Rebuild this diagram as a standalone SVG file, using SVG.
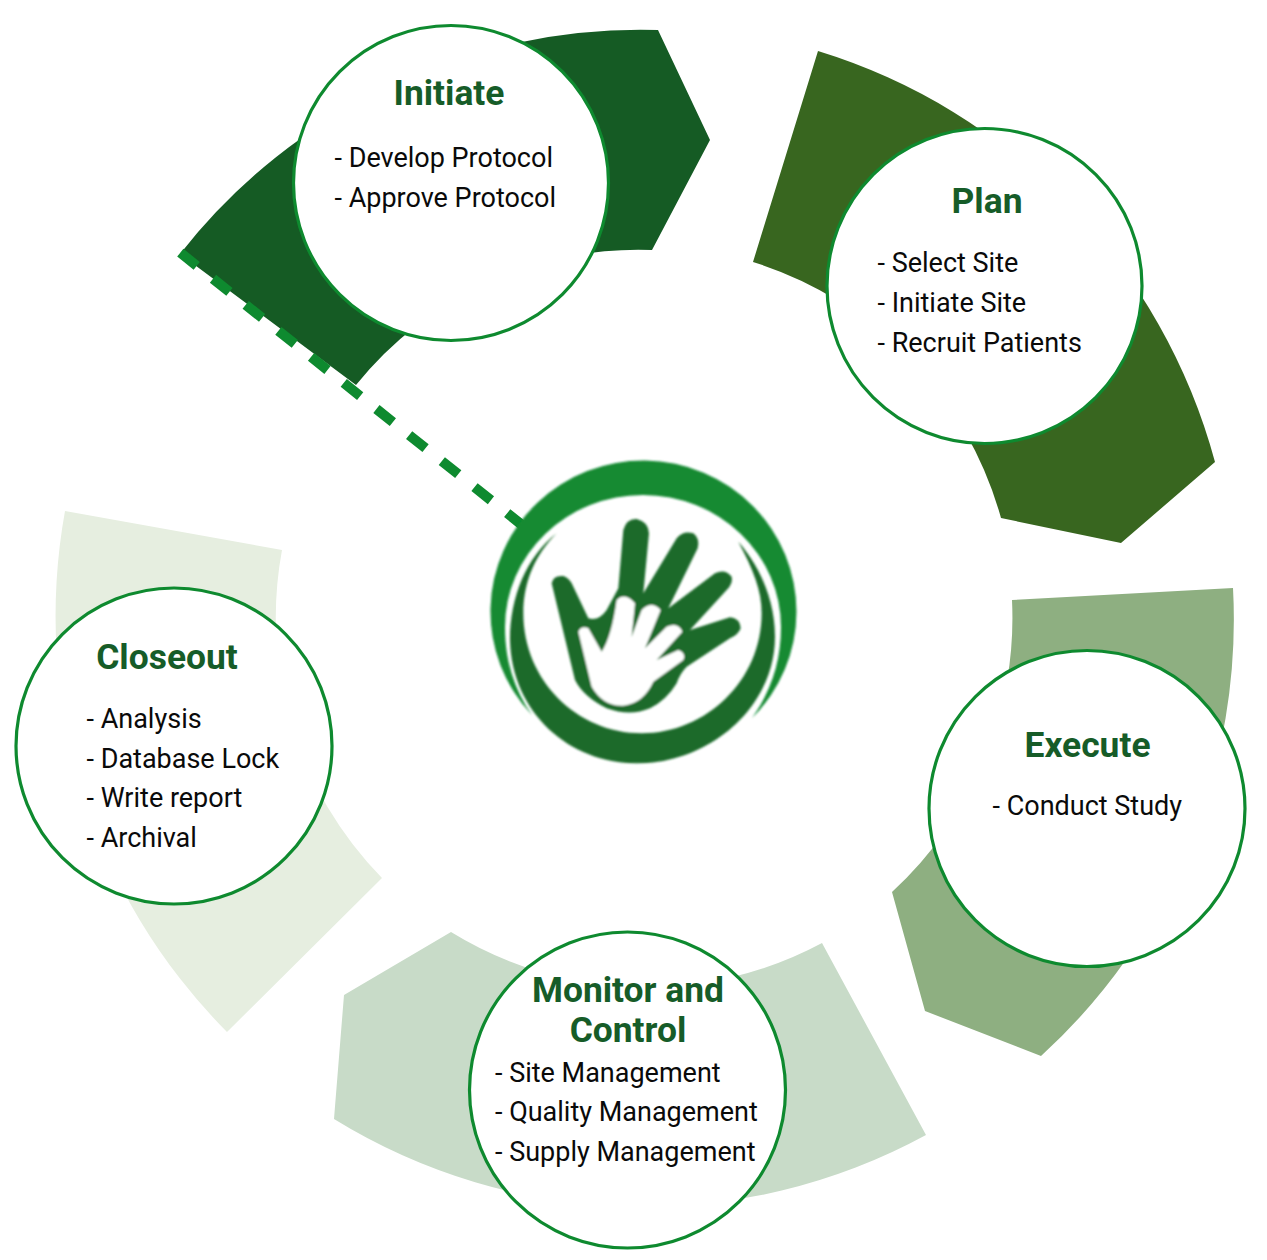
<svg xmlns="http://www.w3.org/2000/svg" width="1267" height="1260" viewBox="0 0 1267 1260">
<defs><filter id="soft" x="-5%" y="-5%" width="110%" height="110%"><feGaussianBlur stdDeviation="0.8"/></filter></defs>
<style>
.c{fill:#fff;stroke:#0e8a2f;stroke-width:3.2}
.t{font-family:Roboto,"Liberation Sans",sans-serif;font-weight:700;font-size:35.4px;fill:#165c28;text-anchor:middle}
.b{font-family:Roboto,"Liberation Sans",sans-serif;font-size:27px;fill:#0a0a0a}
</style>
<rect width="1267" height="1260" fill="#fff"/>
<g id="segments">
<path fill="#155b24" d="M180,254 A585 585 0 0 1 658,30 L710,140 L652,250 A362 362 0 0 0 356,385 Z"/>
<path fill="#38661f" d="M818,51 A590 590 0 0 1 1215,462 L1121,543 L1001,518 A372 372 0 0 0 753,262 Z"/>
<path fill="#8eaf81" d="M1012,600 L1233,588 A590 590 0 0 1 1041,1056 L925,1011 L892,892 A372 372 0 0 0 1012,600 Z"/>
<path fill="#c8dbc8" d="M926,1135 A590 590 0 0 1 334,1119 L344,995 L451,932 A372 372 0 0 0 822,943 Z"/>
<path fill="#e6eee0" d="M65,511 L282,550 A372 372 0 0 0 382,878 L227,1032 A590 590 0 0 1 65,511 Z"/>
</g>
<g id="connectors">
<path d="M180.3,252.7 L522,525" fill="none" stroke="#0e8a2f" stroke-width="10" stroke-dasharray="21 20.8"/>
</g>
<g id="logo" filter="url(#soft)">
<path fill="#128a33" d="M532,715 A153 151 0 1 1 752,718 C772,690 781,660 781,627 A138 132 0 0 0 505,627 C505,660 514,690 532,715 Z"/>
<g transform="translate(470 440) scale(.33333)">
<path fill="#1b6b2a" fill-rule="evenodd" d="M260,280 C170,350 120,470 120,600 C125,820 300,970 500,970 C720,970 915,800 915,590 C915,480 870,380 805,305 C850,390 875,450 875,520 C875,720 710,880 515,880 C320,880 160,720 160,520 C160,420 200,340 260,280 Z"/>
<path fill="#1b6b2a" d="M245,430 Q250,405 280,408 Q300,415 310,440 L355,535 Q385,545 410,510 L445,445 L460,270 Q470,235 500,237 Q535,245 537,280 L520,460 L620,295 Q640,270 670,280 Q690,295 683,325 L595,505 L735,400 Q765,385 785,410 Q790,430 770,450 L660,570 L780,532 Q810,535 812,565 Q805,585 780,595 L650,680 Q630,700 620,730 Q590,780 540,805 Q480,830 410,805 Q340,770 315,720 Z"/>
<path fill="#fff" d="M325,575 Q335,555 355,565 L395,635 Q425,590 440,480 Q465,455 495,490 L485,590 L515,510 Q545,480 572,510 L525,625 L590,560 Q625,545 637,575 L560,660 L625,630 Q650,640 640,660 L550,725 Q520,790 460,797 Q400,800 365,740 Z"/>
</g>
</g>
<g id="initiate"><circle class="c" cx="451" cy="183" r="157.5"/>
<text class="t" x="449" y="105">Initiate</text>
<text class="b" x="334.5" y="166.5">- Develop Protocol</text>
<text class="b" x="334.5" y="206.5">- Approve Protocol</text></g>
<g id="plan"><circle class="c" cx="984.5" cy="286" r="157.5"/>
<text class="t" x="987" y="213">Plan</text>
<text class="b" x="877.5" y="272">- Select Site</text>
<text class="b" x="877.5" y="312">- Initiate Site</text>
<text class="b" x="877.5" y="351.5">- Recruit Patients</text></g>
<g id="execute"><circle class="c" cx="1087" cy="808.5" r="158"/>
<text class="t" x="1087.5" y="757">Execute</text>
<text class="b" x="992.5" y="814.5">- Conduct Study</text></g>
<g id="monitor"><circle class="c" cx="627.5" cy="1090" r="158"/>
<text class="t" x="628" y="1001.5">Monitor and</text>
<text class="t" x="628" y="1041.5">Control</text>
<text class="b" x="495" y="1081.5">- Site Management</text>
<text class="b" x="495" y="1121">- Quality Management</text>
<text class="b" x="495" y="1160.5">- Supply Management</text></g>
<g id="closeout"><circle class="c" cx="174" cy="746" r="158"/>
<text class="t" x="167" y="669">Closeout</text>
<text class="b" x="86.5" y="728">- Analysis</text>
<text class="b" x="86.5" y="767.5">- Database Lock</text>
<text class="b" x="86.5" y="807">- Write report</text>
<text class="b" x="86.5" y="846.5">- Archival</text></g>
</svg>
